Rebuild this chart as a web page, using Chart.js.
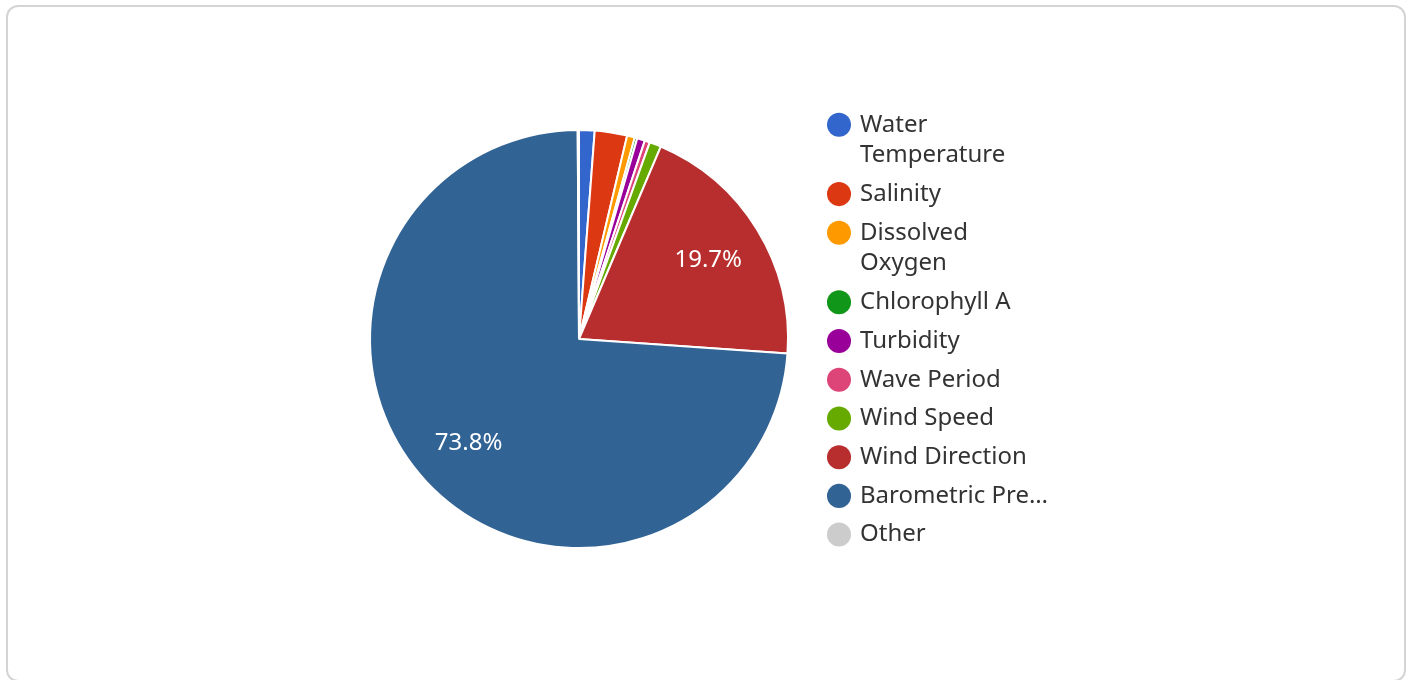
<!DOCTYPE html>
<html>
<head>
<meta charset="utf-8">
<script src="https://cdn.jsdelivr.net/npm/chart.js@4"></script>
<style>
  html, body { margin: 0; padding: 0; background: #fff; }
  body { width: 1410px; height: 680px; overflow: hidden; position: relative; font-family: "Noto Sans", sans-serif; }
  .card { position: absolute; left: 6px; top: 5px; width: 1400px; height: 677px; box-sizing: border-box;
          border: 2px solid #d4d4d4; border-radius: 12px; background: #fff; }
  .chart-box { position: absolute; left: 336px; top: 93px; width: 722px; height: 480px; }
</style>
</head>
<body>
<div class="card"></div>
<div class="chart-box"><canvas id="pie"></canvas></div>
<script>
// dados do grafico
const categories = ['Water Temperature', 'Salinity', 'Dissolved Oxygen', 'Chlorophyll A', 'Turbidity',
  'Wave Period', 'Wind Speed', 'Wind Direction', 'Barometric Pressure', 'Other'];
const values = [1.2, 2.5, 0.6, 0.2, 0.6, 0.4, 0.9, 19.7, 73.8, 0.1];
const colors = ['#3366cc', '#dc3912', '#ff9900', '#109618', '#990099',
  '#dd4477', '#66aa00', '#b82e2e', '#316395', '#cccccc'];

// texto da legenda: quebra nomes medios, corta os longos
function legendText(name) {
  if (name.length > 18) return [name.slice(0, 14) + '\u2026'];
  if (name.length > 15) return name.split(' ');
  return [name];
}

// rotulos de porcentagem dentro das fatias grandes
const sliceLabels = {
  id: 'sliceLabels',
  afterDatasetsDraw(chart) {
    const ctx = chart.ctx;
    const meta = chart.getDatasetMeta(0);
    const total = values.reduce((a, b) => a + b, 0);
    ctx.save();
    ctx.fillStyle = '#fff';
    ctx.font = '24px "Noto Sans"';
    ctx.textAlign = 'center';
    ctx.textBaseline = 'middle';
    meta.data.forEach((arc, i) => {
      const pct = values[i] / total * 100;
      if (pct < 5) return;
      const p = arc.getProps(['x', 'y', 'startAngle', 'endAngle', 'outerRadius'], true);
      const mid = (p.startAngle + p.endAngle) / 2;
      const r = p.outerRadius * 0.725;
      ctx.fillText(pct.toFixed(1) + '%', p.x + Math.cos(mid) * r, p.y + Math.sin(mid) * r);
    });
    ctx.restore();
  }
};

const ctx = document.getElementById('pie').getContext('2d');
new Chart(ctx, {
  type: 'pie',
  data: {
    labels: categories,
    datasets: [{
      data: values,
      backgroundColor: colors,
      borderColor: '#fff',
      borderWidth: 2,
      radius: 209
    }]
  },
  options: {
    responsive: true,
    maintainAspectRatio: false,
    animation: false,
    plugins: {
      title: { display: true, text: '', padding: 0, font: { size: 10, lineHeight: 1.2 } },
      tooltip: { enabled: true },
      legend: {
        position: 'right',
        align: 'center',
        labels: {
          usePointStyle: true,
          pointStyle: 'circle',
          boxWidth: 18,
          boxHeight: 17,
          padding: 8,
          color: '#333',
          font: { family: '"Noto Sans"', size: 24, lineHeight: 1.28 },
          generateLabels(chart) {
            const items = Chart.controllers.pie.overrides.plugins.legend.labels.generateLabels(chart);
            return items.map(it => Object.assign(it, { text: legendText(it.text), lineWidth: 0 }));
          }
        }
      }
    }
  },
  plugins: [sliceLabels]
});
</script>
</body>
</html>
